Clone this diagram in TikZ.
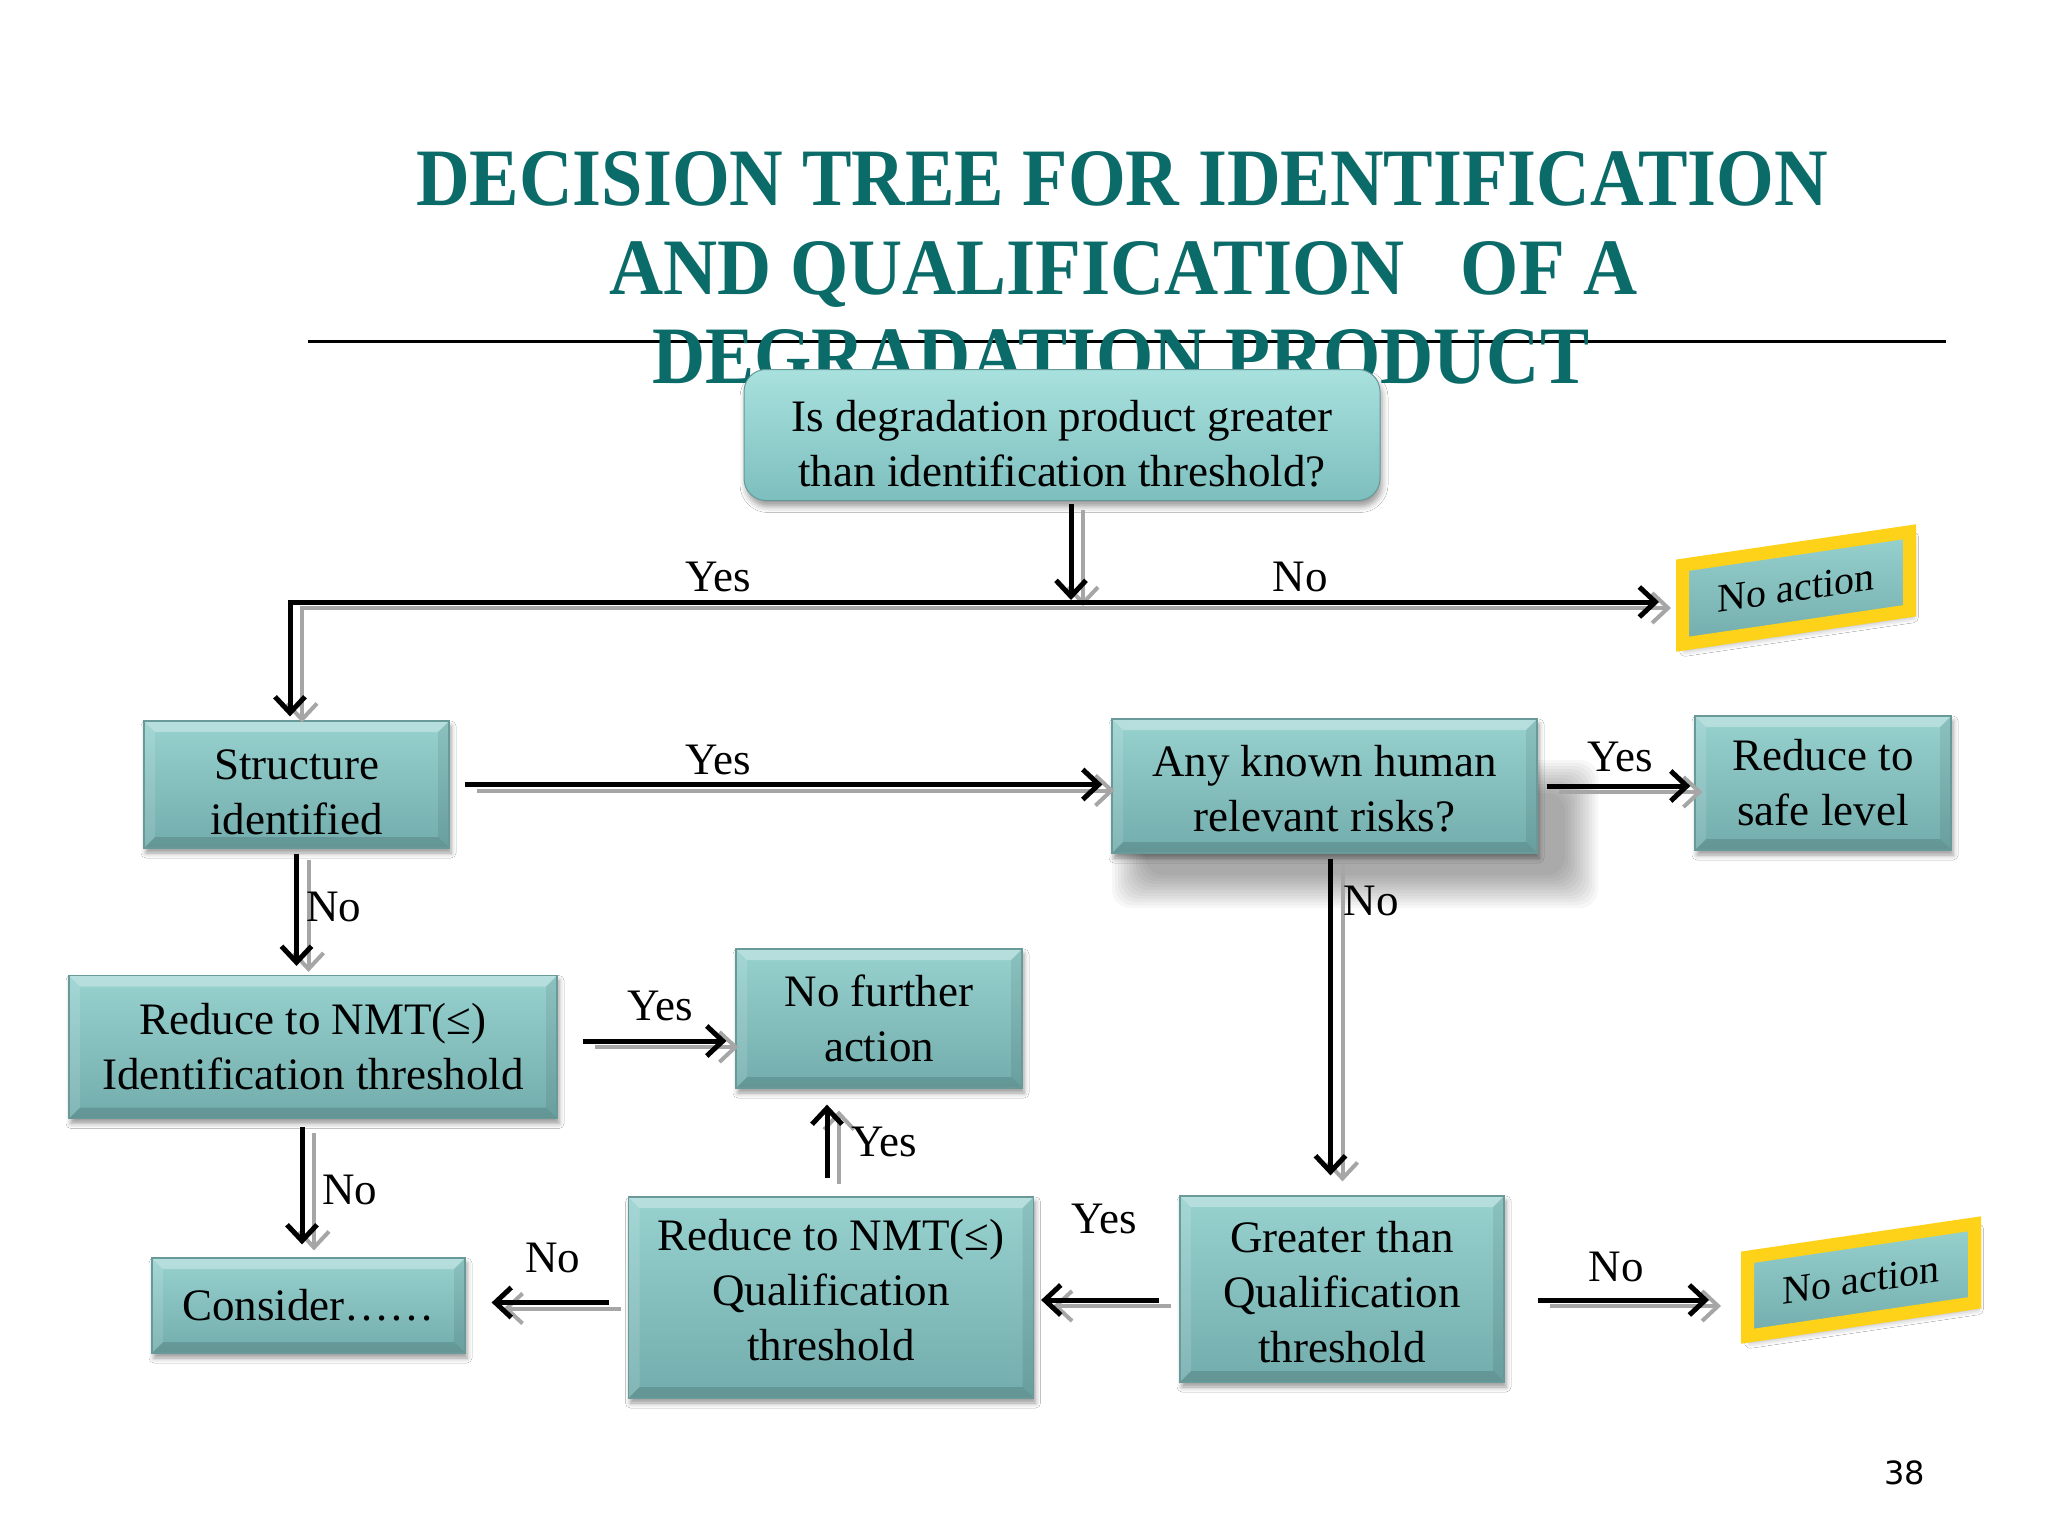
\documentclass[tikz,border=0pt]{standalone}
\usepackage{fontspec}
\usepackage{graphicx}
\setmainfont{Liberation Serif}
\newfontfamily\numfont{DejaVu Sans}
\usetikzlibrary{arrows.meta,shadows,shadows.blur,calc}
\definecolor{tealA}{HTML}{97D2CF}
\definecolor{tealB}{HTML}{72ACAC}
\definecolor{tealC}{HTML}{A8E1DE}
\definecolor{tealD}{HTML}{7DBFBE}
\definecolor{bord}{HTML}{6A9999}
\definecolor{ttlc}{HTML}{0B6B69}
\definecolor{yel}{HTML}{FFD21A}
\definecolor{gryc}{HTML}{A6A6A6}
\newcommand\ppb{path picture bounding box}
\newcommand\dn[1]{\rule{0pt}{#1}}
\tikzset{
  >={Straight Barb[length=16pt,width=30pt]},
  bevel/.style={path picture={
    \fill[white,opacity=.30] (\ppb.north west) -- (\ppb.north east) -- ([xshift=-11pt,yshift=-11pt]\ppb.north east) -- ([xshift=11pt,yshift=-11pt]\ppb.north west) -- cycle;
    \fill[white,opacity=.12] (\ppb.north west) -- ([xshift=11pt,yshift=-11pt]\ppb.north west) -- ([xshift=11pt,yshift=11pt]\ppb.south west) -- (\ppb.south west) -- cycle;
    \fill[black,opacity=.08] (\ppb.north east) -- ([xshift=-11pt,yshift=-11pt]\ppb.north east) -- ([xshift=-11pt,yshift=11pt]\ppb.south east) -- (\ppb.south east) -- cycle;
    \fill[black,opacity=.13] (\ppb.south west) -- ([xshift=11pt,yshift=11pt]\ppb.south west) -- ([xshift=-11pt,yshift=11pt]\ppb.south east) -- (\ppb.south east) -- cycle;
  }},
  txt/.style={font=\fontsize{45}{55}\selectfont, text=black},
  box/.style={txt, draw=bord, line width=1.2pt, top color=tealA, bottom color=tealB, bevel,
    align=center, inner sep=0pt,
    blur shadow={shadow xshift=2pt, shadow yshift=-5pt, shadow blur radius=5pt, shadow opacity=40}},
  qbox/.style={txt, draw=tealD!80!black, line width=1pt, rounded corners=22pt, top color=tealC, bottom color=tealD,
    align=center, inner sep=0pt,
    blur shadow={shadow xshift=2pt, shadow yshift=-6pt, shadow blur radius=6pt, shadow opacity=40}},
  noact/.style={font=\fontsize{40}{48}\selectfont, text=black, draw=yel, line width=13pt, top color=tealA, bottom color=tealB,
    minimum width=227pt, minimum height=79pt, inner sep=0pt, transform shape,
    blur shadow={shadow xshift=3pt, shadow yshift=-6pt, shadow blur radius=6pt, shadow opacity=35}},
  lbl/.style={txt, inner sep=0pt},
  ttl/.style={inner sep=0pt, text=ttlc, font=\bfseries},
  bconn/.style={draw=black, line width=5pt, ->},
  gconn/.style={draw=gryc, line width=4pt, ->, transform canvas={shift={(12pt,-6pt)}}},
}
\newcommand\dar[2][]{\path[gconn,#1] #2; \path[bconn,#1] #2;}

\begin{document}
\begin{tikzpicture}[x=1pt,y=-1pt]
\useasboundingbox[fill=white] (0,0) rectangle (2048,1536);

% rule and title
\draw[line width=3pt] (308,341) coordinate (r1) -- (1946,341) coordinate (r2);
\node[ttl,anchor=base west] (t1) at (416,205) {\resizebox{1412pt}{54pt}{DECISION TREE FOR IDENTIFICATION}};
\node[ttl,anchor=base west] (t2) at (609,294) {\resizebox{1028pt}{53pt}{AND QUALIFICATION\hspace{0.5em} OF A}};
\node[ttl,anchor=base west] (t3) at (652,383) {\resizebox{937pt}{54pt}{DEGRADATION PRODUCT}};

% soft shadow under the "Any known" box
\foreach \i in {0,...,11}
  \fill[black,opacity=0.03,rounded corners=18pt] (1112+3*\i,760+3*\i) rectangle (1598-3*\i,908-3*\i);

% boxes
\node[qbox, minimum width=636pt, minimum height=131pt] (q) at (1062,435)
  {\dn{49pt}Is degradation product greater\\than identification threshold?};
\node[box, minimum width=305pt, minimum height=127pt] (struct) at (296.5,784.5) {\dn{45pt}Structure\\identified};
\node[box, minimum width=425pt, minimum height=134pt] (anyk) at (1324.5,786) {\dn{36pt}Any known human\\relevant risks?};
\node[box, minimum width=256pt, minimum height=134pt] (safe) at (1823,783) {Reduce to\\safe level};
\node[box, minimum width=488pt, minimum height=143pt] (redi) at (313,1047) {Reduce to NMT(≤)\\Identification threshold};
\node[box, minimum width=286pt, minimum height=139pt] (nfa) at (879,1018.5) {No further\\action};
\node[box, minimum width=324pt, minimum height=186pt] (greater) at (1342,1289) {\dn{38pt}Greater than\\Qualification\\threshold};
\node[box, minimum width=405pt, minimum height=201pt] (redq) at (831,1297.5) {Reduce to NMT(≤)\\Qualification\\threshold\rule[-16pt]{0pt}{0pt}};
\node[box, minimum width=313pt, minimum height=95pt] (cons) at (308.5,1305.5) {Consider……};

\begin{scope}[shift={(1796,588)}, yslant=0.147]
  \node[noact] (na1) at (0,0) {No action};
\end{scope}
\begin{scope}[shift={(1861,1280)}, yslant=0.147]
  \node[noact] (na2) at (0,0) {No action};
\end{scope}

% junction coordinates
\coordinate (jt) at (1071,602);
\coordinate (jl) at (290,602);
\coordinate (c5) at ([xshift=6pt]anyk.south);
\coordinate (c6) at ([yshift=-11pt]greater.east);
\coordinate (c7) at ([yshift=-11pt]greater.west);
\coordinate (c8) at ([xshift=-4pt]redq.north);
\coordinate (c9) at ([yshift=-5pt]redq.west);
\coordinate (c11) at ([yshift=6pt]redi.east);
\coordinate (c12) at ([xshift=-11pt]redi.south);

% connectors
\dar[shorten <=3pt, shorten >=2pt]{(q.south -| jt) -- (jt)}
\dar[<->, shorten <=4pt, shorten >=17pt]{(jl |- struct.north) -- (jl) -- (jl -| na1.west)}
\dar[shorten <=15pt, shorten >=9pt]{(struct.east) -- (struct.east -| anyk.west)}
\dar[shorten <=9pt, shorten >=4pt]{(anyk.east) -- (anyk.east -| safe.west)}
\dar[shorten <=5pt, shorten >=20pt]{(c5) -- (c5 |- greater.north)}
\dar[shorten <=33pt, shorten >=32pt]{(c6) -- (c6 -| na2.west)}
\dar[shorten <=20pt, shorten >=7pt]{(c7) -- (c7 -| redq.east)}
\dar[shorten <=18pt, shorten >=16pt]{(c8) -- (c8 |- nfa.south)}
\dar[shorten <=19pt, shorten >=26pt]{(c9) -- (c9 -| cons.east)}
\dar[shorten <=5pt, shorten >=9pt]{(struct.south) -- (struct.south |- redi.north)}
\dar[shorten <=25pt, shorten >=9pt]{(c11) -- (c11 -| nfa.west)}
\dar[shorten <=8pt, shorten >=13pt]{(c12) -- (c12 |- cons.north)}

% labels
\node[lbl] (l1) at (718,577) {Yes};
\node[lbl] (l2) at (1300,577) {No};
\node[lbl] (l3) at (718,760) {Yes};
\node[lbl] (l4) at (1620,757) {Yes};
\node[lbl] (l5) at (1371,901) {No};
\node[lbl] (l6) at (1616,1267) {No};
\node[lbl] (l7) at (1104,1219) {Yes};
\node[lbl] (l8) at (884,1142) {Yes};
\node[lbl] (l9) at (553,1258) {No};
\node[lbl] (l10) at (334,907) {No};
\node[lbl] (l11) at (660,1006) {Yes};
\node[lbl] (l12) at (350,1190) {No};

% page number
\node[anchor=base west, inner sep=0pt, font=\numfont\fontsize{32}{38}\selectfont] (pg) at (1884,1484) {38};
\end{tikzpicture}
\end{document}
